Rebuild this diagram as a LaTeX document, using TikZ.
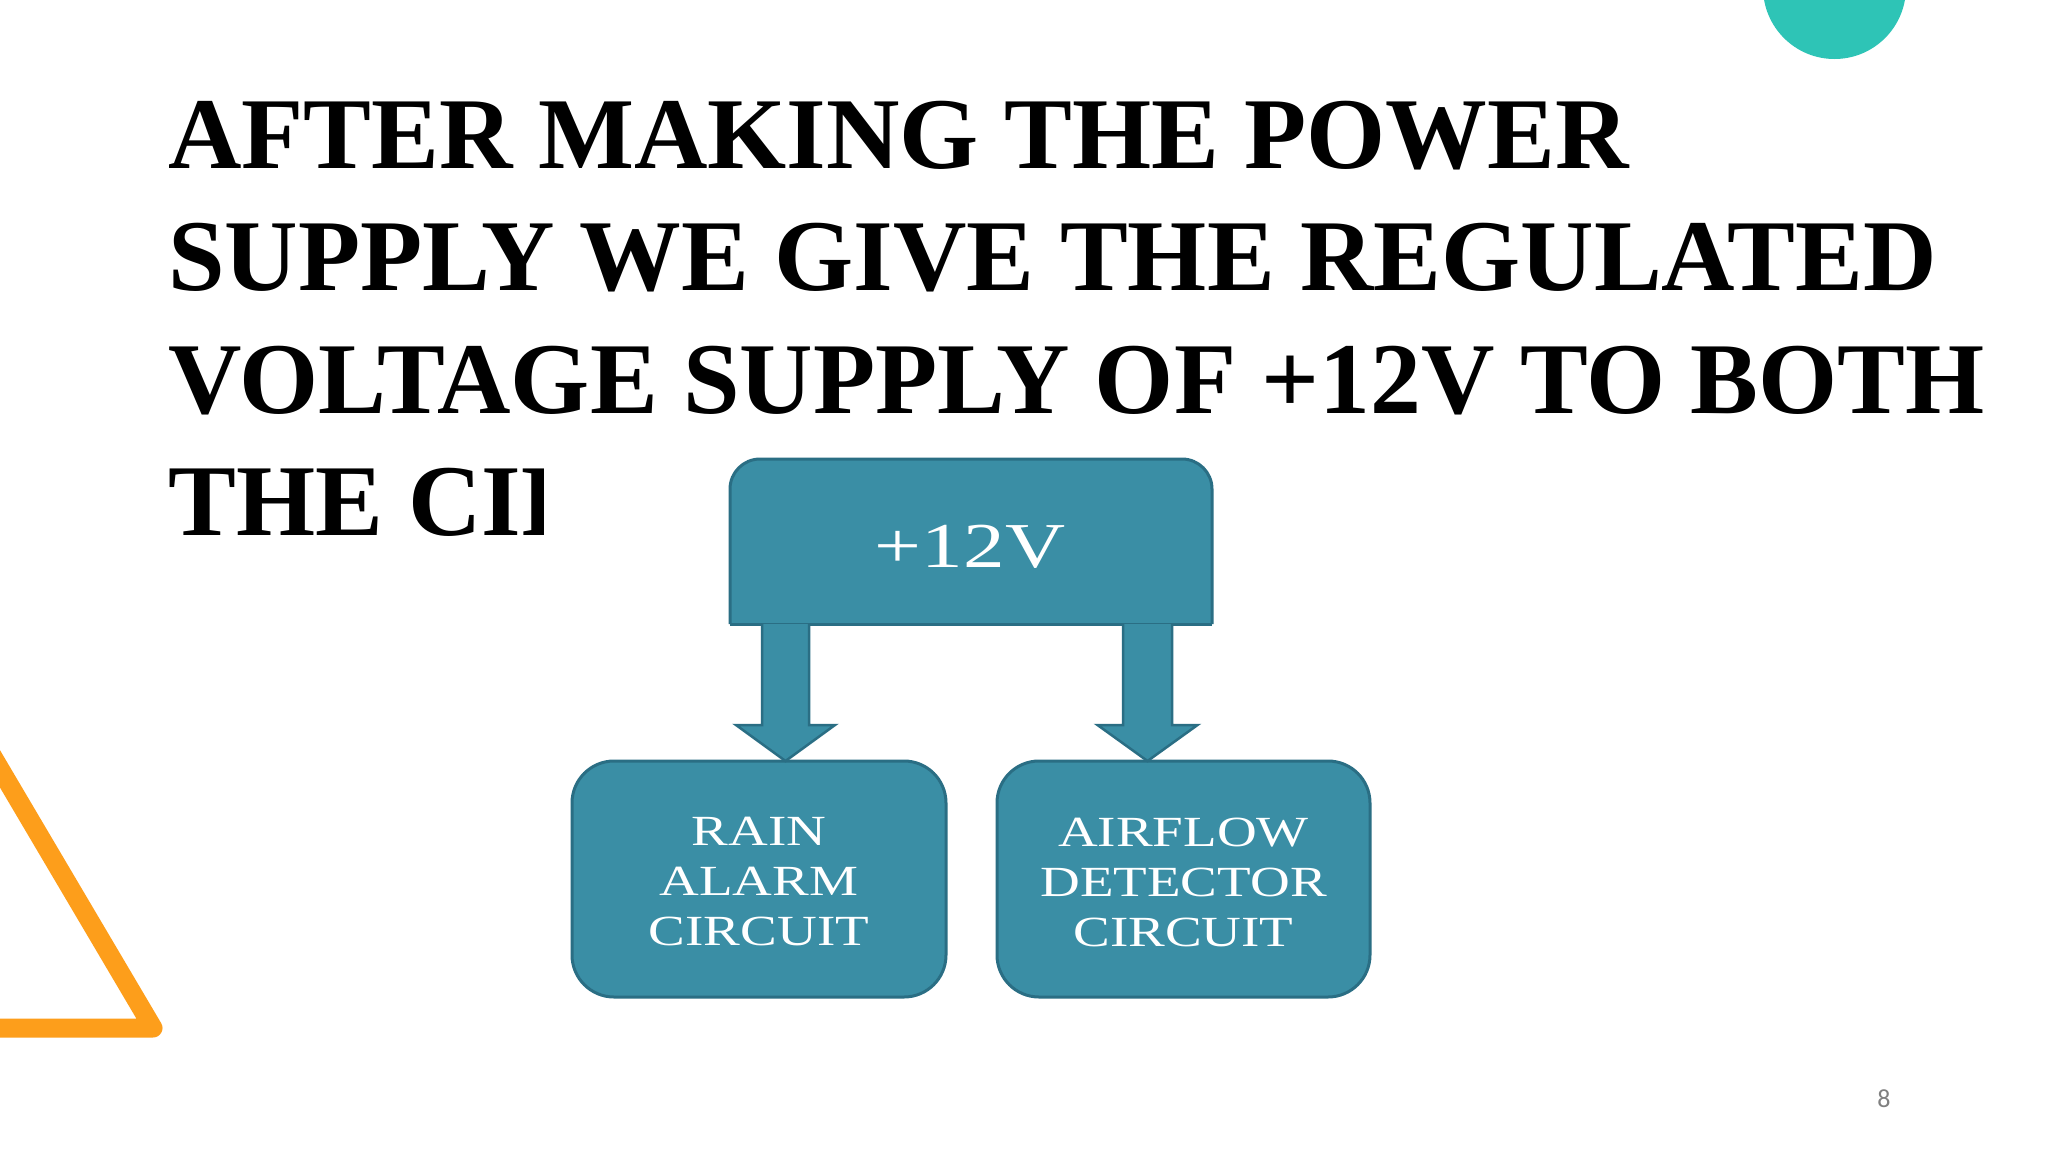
\documentclass[tikz,border=0pt]{standalone}
\usepackage{fontspec}
\usepackage{graphicx}
\setmainfont{Liberation Serif}
\newfontfamily\pgnumfont{Carlito}
\usetikzlibrary{calc}
\definecolor{boxfill}{RGB}{58,142,165}
\definecolor{boxline}{RGB}{42,110,132}
\definecolor{dotteal}{RGB}{46,196,182}
\definecolor{triorange}{RGB}{253,158,27}
\definecolor{pggray}{RGB}{128,128,128}
\begin{document}
\begin{tikzpicture}[x=1pt,y=-1pt,
  titletext/.style={anchor=base west, inner sep=0, font=\bfseries\fontsize{101.7}{120}\selectfont},
  flowbox/.style={fill=boxfill, draw=boxline, line width=3pt, inner sep=0, outer sep=0},
  boxtext/.style={text=white, inner sep=0, font=\fontsize{43}{50}\selectfont, align=center},
  blockarrow/.style={fill=boxfill, draw=boxline, line width=2.5pt, line join=miter},
  boxedge/.style={draw=boxline, line width=3pt}
]
\useasboundingbox (0,0) rectangle (2048,1152);
\fill[white] (0,0) rectangle (2048,1152);
% decorations
\fill[dotteal] (1834.5,-12.5) circle[radius=71.5];
\draw[triorange, line width=19pt, line join=round, line cap=round] (-20,735) -- (153,1028) -- (-30,1028);
% title
\node[titletext] (t1) at (168,168) {AFTER MAKING THE POWER};
\node[titletext] (t2) at (168,290.5) {SUPPLY WE GIVE THE REGULATED};
\node[titletext] (t3) at (168,413) {VOLTAGE SUPPLY OF +12V TO BOTH};
\begin{scope}
  \clip (0,440) rectangle (544,600);
  \node[titletext] (t4) at (168,535.5) {THE CIR};
\end{scope}
% diagram image background
\fill[white] (544,445) rectangle (1420,1015);
% top box (rounded top corners only)
\node[inner sep=0, outer sep=0, minimum width=482, minimum height=165] (top) at (971,541.5) {};
\fill[boxfill, rounded corners=30] (top.south west) -- (top.north west) -- (top.north east) -- (top.south east);
\draw[boxedge, rounded corners=30] (top.south west) -- (top.north west) -- (top.north east) -- (top.south east);
\draw[boxedge, line cap=square] (top.south west) -- (top.south east);
\node[text=white, inner sep=0, anchor=base, font=\fontsize{64}{64}\selectfont] (toplbl) at (970,567) {\scalebox{1.3}[1]{+12V}};
% bottom boxes
\node[flowbox, rounded corners=42, minimum width=374, minimum height=236] (rain) at (759,879) {};
\node[flowbox, rounded corners=42, minimum width=373, minimum height=236] (air) at (1183.5,879) {};
\node[boxtext] (rainlbl) at (759,882) {\scalebox{1.28}[1]{RAIN}\\\scalebox{1.28}[1]{ALARM}\\\scalebox{1.28}[1]{CIRCUIT}};
\node[boxtext] (airlbl) at (1183.5,882) {\scalebox{1.28}[1]{AIRFLOW}\\\scalebox{1.28}[1]{DETECTOR}\\\scalebox{1.28}[1]{CIRCUIT}};
% block arrows
\coordinate (la) at ($(top.south west)+(55.5,0)$);
\coordinate (lt) at (la|-rain.north);
\draw[blockarrow] ($(la)+(-23.5,0)$) -- ($(lt)+(-23.5,-36)$) -- ($(lt)+(-49.5,-36)$) -- (lt) -- ($(lt)+(49.5,-36)$) -- ($(lt)+(23.5,-36)$) -- ($(la)+(23.5,0)$);
\coordinate (ra) at ($(top.south east)+(-64.5,0)$);
\coordinate (rt) at (ra|-air.north);
\draw[blockarrow] ($(ra)+(-24.5,0)$) -- ($(rt)+(-24.5,-36)$) -- ($(rt)+(-50,-36)$) -- (rt) -- ($(rt)+(50,-36)$) -- ($(rt)+(24.5,-36)$) -- ($(ra)+(24.5,0)$);
% page number
\node[text=pggray, inner sep=0, font=\pgnumfont\fontsize{26}{26}\selectfont] (pg) at (1884,1099) {8};
\end{tikzpicture}
\end{document}
